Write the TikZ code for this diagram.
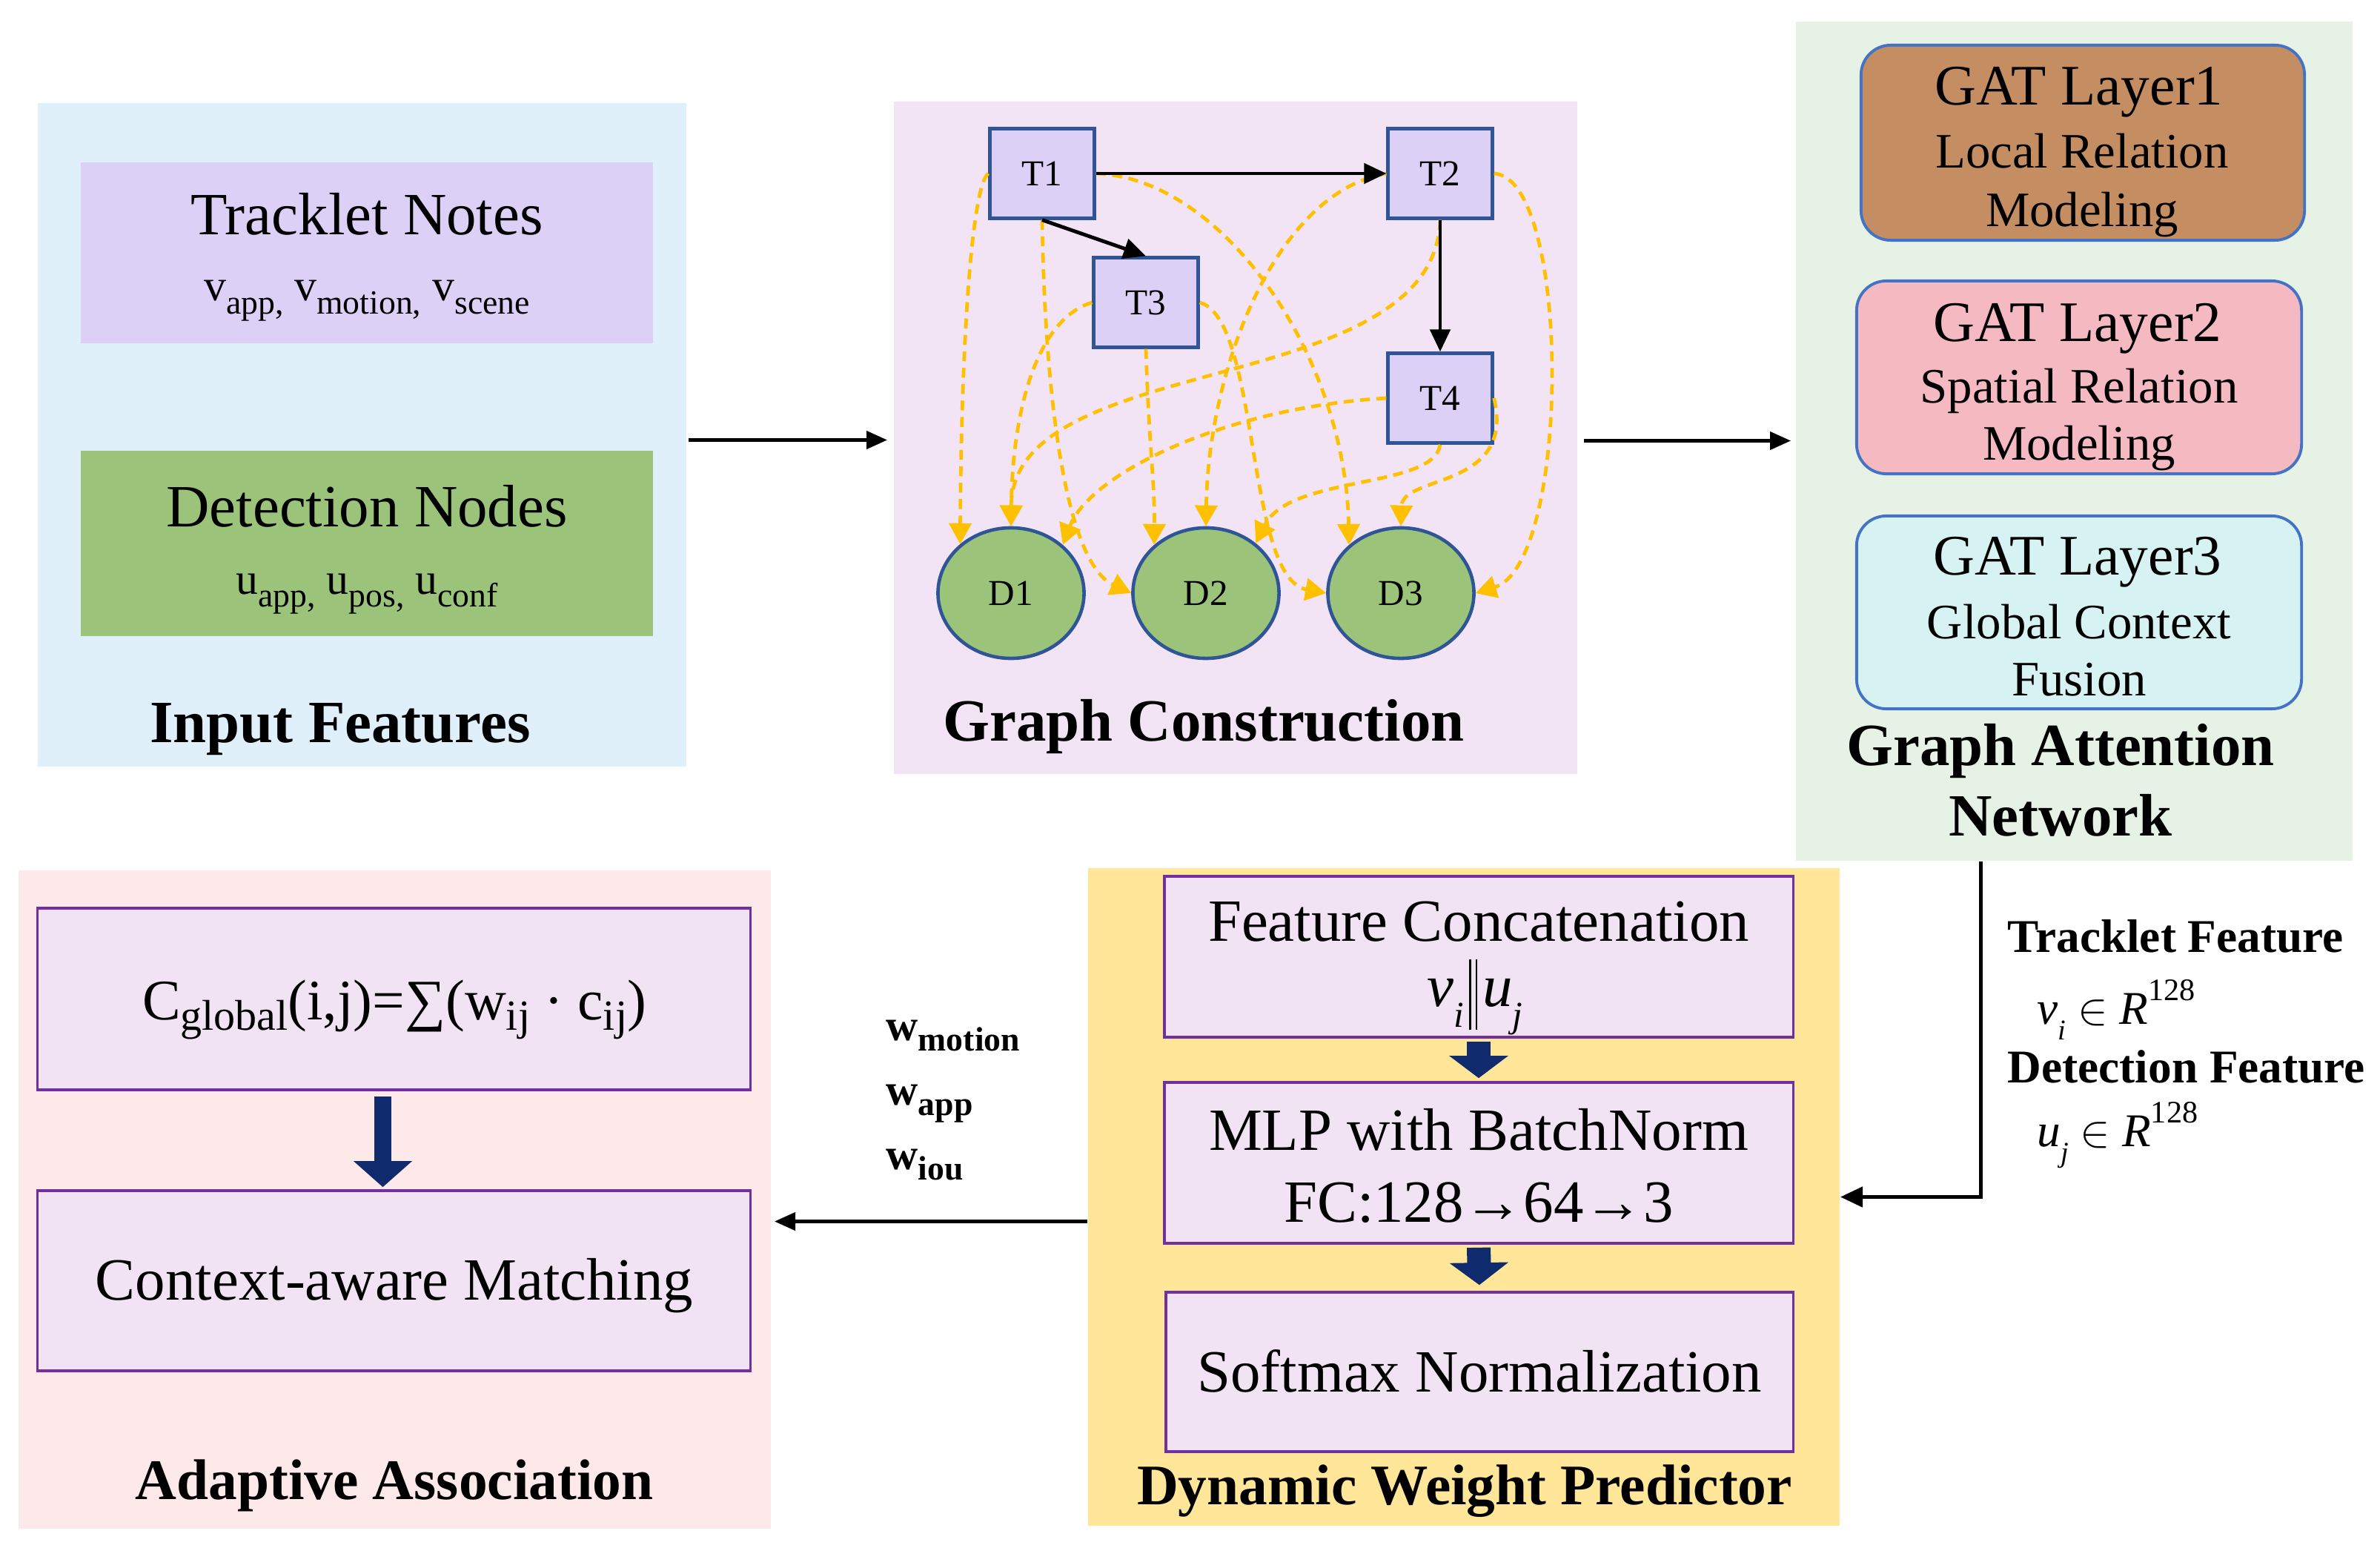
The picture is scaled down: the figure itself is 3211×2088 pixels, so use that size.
\documentclass[tikz,border=0pt]{standalone}
\usepackage{fontspec}
\setmainfont{Liberation Serif}
\usepackage{graphicx}
\usetikzlibrary{arrows.meta,shapes.geometric,calc}
\definecolor{inpbg}{HTML}{E0F0FB}
\definecolor{tnfill}{HTML}{DDD0F7}
\definecolor{dgreen}{HTML}{9BC47A}
\definecolor{gcbg}{HTML}{F2E4F4}
\definecolor{tblue}{HTML}{2F5597}
\definecolor{gold}{HTML}{FFC000}
\definecolor{gatbg}{HTML}{E7F2E6}
\definecolor{gatone}{HTML}{C48E62}
\definecolor{gattwo}{HTML}{F4B9C1}
\definecolor{gatthree}{HTML}{D6F2F2}
\definecolor{gatblue}{HTML}{4472C4}
\definecolor{aabg}{HTML}{FDE8EA}
\definecolor{boxfill}{HTML}{F2E3F4}
\definecolor{boxpurple}{HTML}{7030A0}
\definecolor{dwpbg}{HTML}{FFE699}
\definecolor{navyc}{HTML}{0F2B6E}
\newcommand\vsub[1]{\raisebox{-5pt}{\fontsize{13}{13}\selectfont #1}}
\newcommand\fsub[1]{\raisebox{-4pt}{\fontsize{16.5}{16.5}\selectfont #1}}
\newcommand\wsub[1]{\raisebox{-4pt}{\fontsize{13}{13}\selectfont\bfseries #1}}
\newcommand\isub[1]{\raisebox{-6pt}{\fontsize{11}{11}\selectfont\itshape #1}}
\newcommand\csub[1]{\raisebox{-8pt}{\fontsize{14}{14}\selectfont\itshape #1}}
\newcommand\hisup[1]{\raisebox{9pt}{\fontsize{12}{12}\selectfont #1}}
\newcommand\dbar{\rule[-9pt]{0.7pt}{27pt}\kern1.6pt\rule[-9pt]{0.7pt}{27pt}}
\begin{document}
\begin{tikzpicture}[x=0.01cm,y=-0.01cm,
  panel/.style={rectangle, inner sep=0pt, draw=none},
  ibox/.style={rectangle, inner sep=0pt, draw=boxpurple, line width=1pt, fill=boxfill},
  tnode/.style={rectangle, inner sep=0pt, draw=tblue, line width=1.2pt, fill=tnfill, minimum width=1.41cm, minimum height=1.21cm, font=\fontsize{14}{16}\selectfont},
  dnode/.style={ellipse, inner sep=0pt, draw=tblue, line width=1.3pt, fill=dgreen, minimum width=1.97cm, minimum height=1.76cm, font=\fontsize{14}{16}\selectfont},
  gatbox/.style={rectangle, rounded corners=0.4cm, draw=gatblue, line width=1.1pt, inner sep=0pt, minimum width=6cm, minimum height=2.6cm},
  dedge/.style={draw=gold, line width=1.35pt, dash pattern=on 3.8pt off 2.5pt, -{Triangle[length=0.28cm,width=0.3cm]}},
  bedge/.style={draw=black, line width=1.4pt, -{Triangle[length=0.3cm,width=0.27cm]}},
  conn/.style={draw=black, line width=1.2pt, -{Triangle[length=0.28cm,width=0.24cm]}},
  blockarrow/.style={draw=navyc, -{Triangle[length=0.3cm,width=0.78cm]}},
  txt/.style={inner sep=0pt, anchor=base},
  ltxt/.style={inner sep=0pt, anchor=base west},
  big/.style={font=\fontsize{23}{27}\selectfont},
  bigb/.style={font=\bfseries\fontsize{23}{27}\selectfont},
  mid/.style={font=\fontsize{19}{22}\selectfont},
]
\useasboundingbox (0,0) rectangle (3211,2088);
\fill[white] (0,0) rectangle (3211,2088);

% panels
\node[panel, fill=inpbg, minimum width=8.75cm, minimum height=8.95cm] (inp) at (488.5,586.5) {};
\node[panel, fill=gcbg, minimum width=9.22cm, minimum height=9.07cm] (gc) at (1667,590.5) {};
\node[panel, fill=gatbg, minimum width=7.51cm, minimum height=11.32cm] (gat) at (2798.5,595) {};
\node[panel, fill=aabg, minimum width=10.15cm, minimum height=8.88cm] (aa) at (532.5,1618) {};
\node[panel, fill=dwpbg, minimum width=10.14cm, minimum height=8.87cm] (dwp) at (1975,1614.5) {};

% input features
\node[panel, fill=tnfill, minimum width=7.72cm, minimum height=2.44cm] (tn) at (495,341) {};
\node[panel, fill=dgreen, minimum width=7.72cm, minimum height=2.5cm] (dn) at (495,733) {};
\node[txt, big] (tnt) at (495,317) {Tracklet Notes};
\node[txt, font=\fontsize{17}{20}\selectfont] (tnv) at (495,406) {v\vsub{app,} v\vsub{motion,} v\vsub{scene}};
\node[txt, big] (dnt) at (495,710) {Detection Nodes};
\node[txt, font=\fontsize{17}{20}\selectfont] (dnu) at (495,801) {u\vsub{app,} u\vsub{pos,} u\vsub{conf}};
\node[txt, bigb] (inpt) at (459,1001) {Input Features};

% graph construction
\node[tnode] (T1) at (1406,234) {T1};
\node[tnode] (T2) at (1943,234) {T2};
\node[tnode] (T3) at (1546,408) {T3};
\node[tnode] (T4) at (1943,537) {T4};
\node[dnode] (D1) at (1364,800) {D1};
\node[dnode] (D2) at (1627,800) {D2};
\node[dnode] (D3) at (1890,800) {D3};
\node[txt, bigb] (gct) at (1624,999) {Graph Construction};

\draw[dedge] (T1.west) .. controls (1312,250) and (1297,450) .. (D1.136);
\draw[dedge] (T1.south) .. controls (1410,550) and (1440,760) .. (D2.180);
\draw[dedge] (T1.east) .. controls (1650,240) and (1815,480) .. (D3.137);
\draw[dedge] (T2.west) .. controls (1720,260) and (1630,500) .. (D2.90);
\draw[dedge] (T2.south) .. controls (1935,540) and (1366,470) .. (D1.90);
\draw[dedge] (T2.east) .. controls (2120,240) and (2120,760) .. (D3.0);
\draw[dedge] (T3.west) .. controls (1400,430) and (1366,550) .. (D1.90);
\draw[dedge] (T3.south) .. controls (1550,600) and (1558,650) .. (D2.137);
\draw[dedge] (T3.east) .. controls (1700,430) and (1680,780) .. (D3.180);
\draw[dedge] (T4.west) .. controls (1650,550) and (1470,640) .. (D1.43);
\draw[dedge] (T4.south) .. controls (1935,660) and (1740,640) .. (D2.45);
\draw[dedge] (T4.east) .. controls (2045,660) and (1892,640) .. (D3.90);

\draw[bedge] (T1.east) -- (T2.west);
\draw[bedge] (T1.south) -- (T3.north);
\draw[bedge] (T2.south) -- (T4.north);

% GAT
\node[gatbox, fill=gatone, minimum width=5.98cm, minimum height=2.63cm] (g1) at (2810,192.5) {};
\node[gatbox, fill=gattwo] (g2) at (2805,509) {};
\node[gatbox, fill=gatthree] (g3) at (2805,826) {};
\node[txt, font=\fontsize{22}{26}\selectfont] (g1a) at (2805,142) {GAT Layer1};
\node[txt, mid] (g1b) at (2809,227) {Local Relation};
\node[txt, mid] (g1c) at (2809,305) {Modeling};
\node[txt, font=\fontsize{22}{26}\selectfont] (g2a) at (2803,460) {GAT Layer2};
\node[txt, mid] (g2b) at (2805,543) {Spatial Relation};
\node[txt, mid] (g2c) at (2805,620) {Modeling};
\node[txt, font=\fontsize{22}{26}\selectfont] (g3a) at (2803,775) {GAT Layer3};
\node[txt, mid] (g3b) at (2805,861) {Global Context};
\node[txt, mid] (g3c) at (2805,938) {Fusion};
\node[txt, bigb] (gatt1) at (2780,1032) {Graph Attention};
\node[txt, bigb] (gatt2) at (2780,1127) {Network};

% panel connectors
\draw[conn] ($(inp.east)+(2,7)$) -- ($(inp.east -| gc.west)+(-8,7)$);
\draw[conn] ($(gc.east)+(8,4)$) -- ($(gc.east -| gat.west)+(-6,4)$);
\coordinate (gatout) at ($(gat.south west)+(250,0)$);
\draw[draw=black, line width=1.4pt, -{Triangle[length=0.3cm,width=0.27cm]}] (gatout) |- (dwp.east);
\draw[conn] ($(dwp.west)+(0,33)$) -- ($(dwp.west -| aa.east)+(4,33)$);

% adaptive association
\node[ibox, minimum width=9.61cm, minimum height=2.45cm] (cg) at (531.5,1347.5) {};
\node[ibox, minimum width=9.61cm, minimum height=2.43cm] (cm) at (531.5,1727.5) {};
\node[txt, font=\fontsize{22}{26}\selectfont] (cgt) at (532,1375) {C\fsub{global}(i,j)=∑(w\fsub{ij} · c\fsub{ij})};
\node[txt, big] (cmt) at (532,1753) {Context-aware Matching};
\node[txt, font=\bfseries\fontsize{22}{26}\selectfont] (aat) at (532,2022) {Adaptive Association};
\draw[blockarrow, line width=0.23cm, -{Triangle[length=0.35cm,width=0.77cm]}, shorten <=0.07cm, shorten >=0.03cm] ($(cg.south)+(-15,0)$) -- ($(cm.north)+(-15,0)$);

% dynamic weight predictor
\node[ibox, minimum width=8.48cm, minimum height=2.17cm] (fc) at (1995,1290.5) {};
\node[ibox, minimum width=8.48cm, minimum height=2.17cm] (mlp) at (1995,1568.5) {};
\node[ibox, minimum width=8.46cm, minimum height=2.15cm] (sm) at (1996,1850.5) {};
\node[txt, big] (fct) at (1995,1269) {Feature Concatenation};
\node[txt, big] (fcv) at (1990,1357) {\textit{v}\csub{i}\kern2pt\dbar\kern2pt\textit{u}\csub{j}};
\node[txt, big] (mlpa) at (1995,1551) {MLP with BatchNorm};
\node[txt, big] (mlpb) at (1995,1648) {FC:128→64→3};
\node[txt, big] (smt) at (1996,1877) {Softmax Normalization};
\node[txt, font=\bfseries\fontsize{22}{26}\selectfont] (dwpt) at (1976,2029) {Dynamic Weight Predictor};
\draw[blockarrow, line width=0.32cm, shorten <=0.04cm, shorten >=0.04cm] (fc.south) -- (mlp.north);
\draw[blockarrow, line width=0.32cm, shorten <=0.04cm, shorten >=0.08cm] (mlp.south) -- (sm.north);

% side labels
\node[ltxt, font=\bfseries\fontsize{18}{21}\selectfont] (tf) at (2708,1284) {Tracklet Feature};
\node[ltxt, font=\fontsize{18}{21}\selectfont] (tfv) at (2748,1381) {\textit{v}\isub{i} $\in$ \textit{R}\hisup{128}};
\node[ltxt, font=\bfseries\fontsize{18}{21}\selectfont] (df) at (2708,1460) {Detection Feature};
\node[ltxt, font=\fontsize{18}{21}\selectfont] (dfu) at (2748,1546) {\textit{u}\isub{j} $\in$ \textit{R}\hisup{128}};

\node[ltxt, font=\bfseries\fontsize{17}{20}\selectfont] (wm) at (1195,1403) {w\wsub{motion}};
\node[ltxt, font=\bfseries\fontsize{17}{20}\selectfont] (wa) at (1195,1490) {w\wsub{app}};
\node[ltxt, font=\bfseries\fontsize{17}{20}\selectfont] (wi) at (1195,1577) {w\wsub{iou}};
\end{tikzpicture}
\end{document}
